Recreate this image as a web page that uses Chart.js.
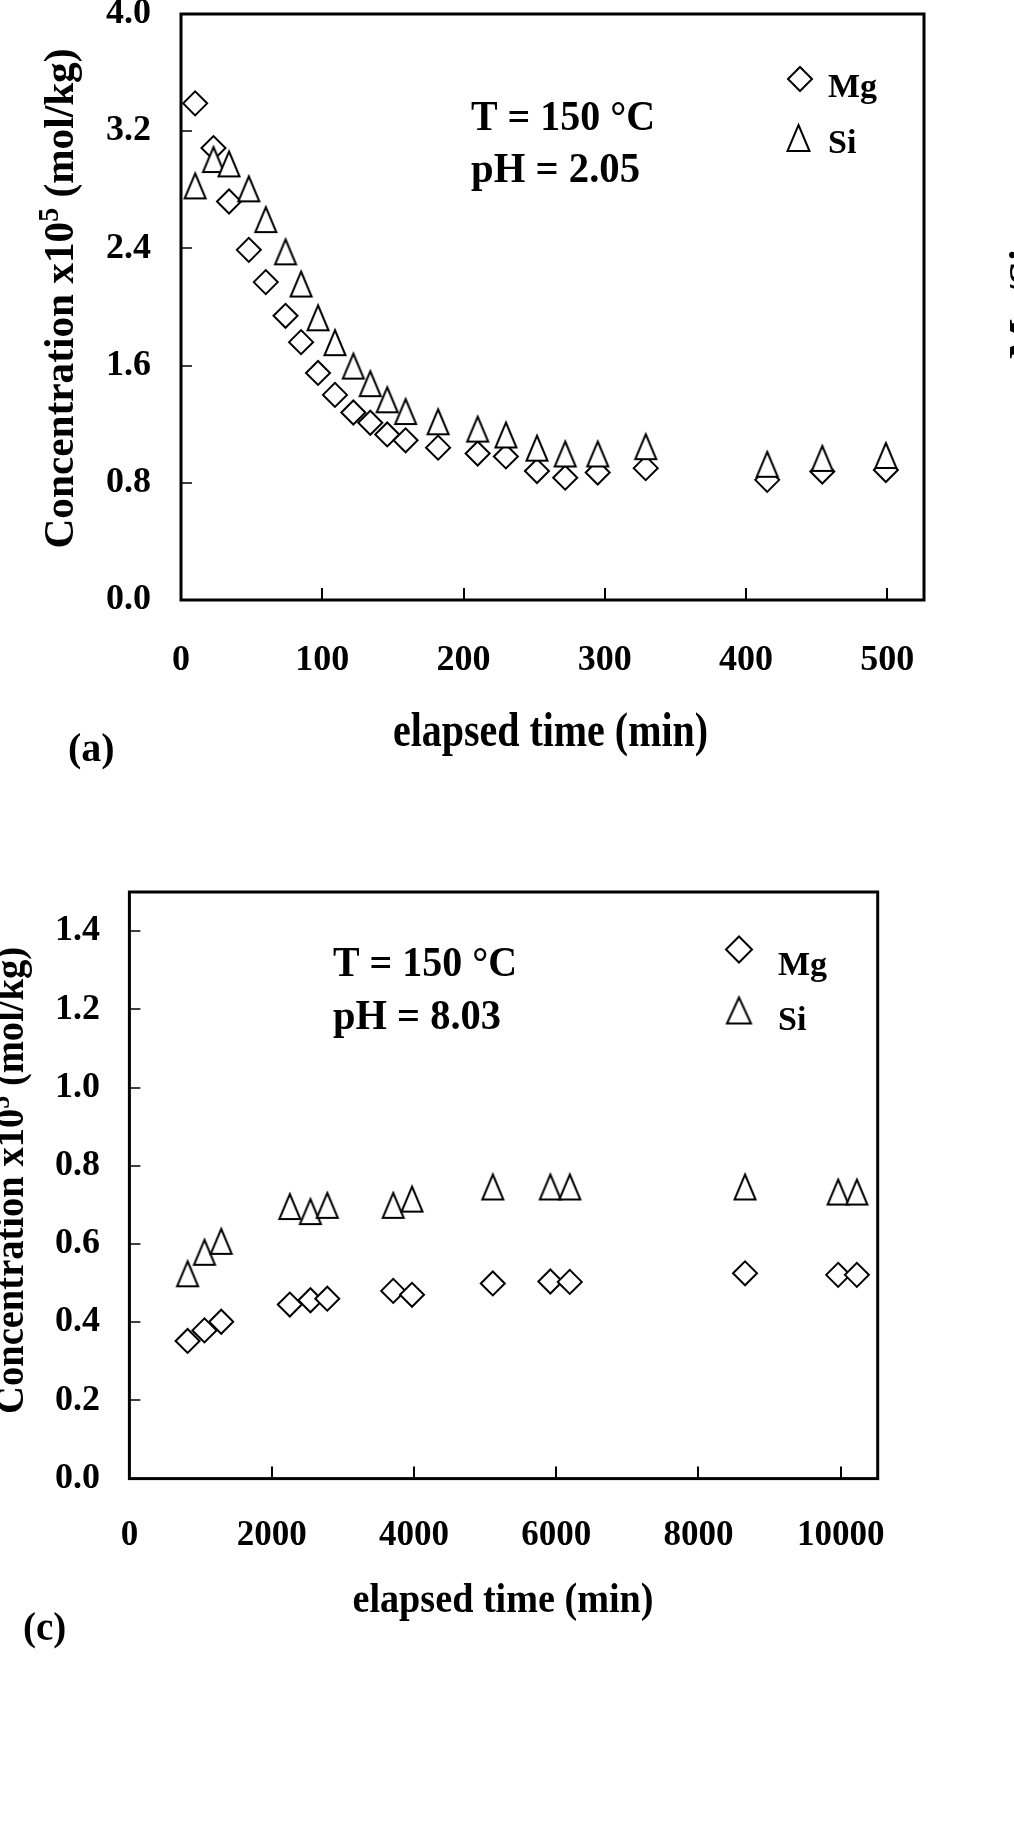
<!DOCTYPE html>
<html><head><meta charset="utf-8">
<script src="https://cdn.jsdelivr.net/npm/chart.js@4.4.0/dist/chart.umd.min.js"></script>
<style>
html,body{margin:0;padding:0;background:#fff;width:1014px;height:1842px;overflow:hidden;}
canvas{position:absolute;left:0;}
#c1{top:0px}
#c2{top:842px}
</style></head><body>
<canvas id="c1" width="1014" height="800"></canvas>
<canvas id="c2" width="1014" height="1000"></canvas>
<script>
const FONT = "'Liberation Serif','Times New Roman',serif";

// ---------- data: panel (a) pH 2.05 ----------
const timeA = [10,23,34,48,60,74,85,97,109,122,134,146,159,182,210,230,252,272,295,329,415,454,499];
const mgA   = [3.39,3.085,2.72,2.39,2.17,1.94,1.76,1.55,1.40,1.28,1.21,1.13,1.09,1.04,1.00,0.98,0.88,0.835,0.87,0.90,0.82,0.877,0.887];
const siA   = [2.83,3.01,2.98,2.81,2.60,2.38,2.16,1.93,1.76,1.60,1.48,1.37,1.29,1.22,1.17,1.13,1.04,1.00,1.00,1.05,0.93,0.97,0.99];
const xTicksA = [0,100,200,300,400,500];
const yTicksA = [0,0.8,1.6,2.4,3.2,4.0];

// ---------- data: panel (c) pH 8.03 ----------
const timeC = [818,1055,1291,2255,2545,2782,3709,3973,5109,5918,6191,8655,9964,10227];
const mgC   = [0.352,0.379,0.401,0.445,0.456,0.46,0.48,0.47,0.499,0.504,0.503,0.525,0.521,0.521];
const siC   = [0.525,0.58,0.608,0.697,0.684,0.70,0.70,0.716,0.747,0.747,0.747,0.747,0.734,0.734];
const xTicksC = [0,2000,4000,6000,8000,10000];
const yTicksC = [0,0.2,0.4,0.6,0.8,1.0,1.2,1.4];

const seriesNames = ['Mg','Si'];
const xTitle = 'elapsed time (min)';
const yTitleParts = ['Concentration x10','5',' (mol/kg)'];

function makeTriangle(w,h,lw){
  const c=document.createElement('canvas'); c.width=w; c.height=h;
  const g=c.getContext('2d');
  g.beginPath(); g.moveTo(w/2,3); g.lineTo(w-2.5,h-2); g.lineTo(2.5,h-2); g.closePath();
  g.fillStyle='#fff'; g.fill(); g.lineWidth=lw; g.strokeStyle='#000'; g.lineJoin='miter'; g.stroke();
  return c;
}
const triData = makeTriangle(26,30,2);

function txt(ctx,s,x,y,size,maxW,align){
  ctx.font='bold '+size+'px '+FONT; ctx.textAlign=align||'left'; ctx.textBaseline='alphabetic'; ctx.fillStyle='#000';
  if(maxW) ctx.fillText(s,x,y,maxW); else ctx.fillText(s,x,y);
}
function drawYTitle(ctx,bx,cy,size,len,supSize,raise){
  ctx.save(); ctx.translate(bx,cy); ctx.rotate(-Math.PI/2);
  const f='bold '+size+'px '+FONT, fs='bold '+supSize+'px '+FONT;
  ctx.font=f; const w1=ctx.measureText(yTitleParts[0]).width, w3=ctx.measureText(yTitleParts[2]).width;
  ctx.font=fs; const w2=ctx.measureText(yTitleParts[1]).width;
  const tot=w1+w2+w3; ctx.scale(len/tot,1);
  let x=-tot/2; ctx.fillStyle='#000'; ctx.textAlign='left'; ctx.textBaseline='alphabetic';
  ctx.font=f; ctx.fillText(yTitleParts[0],x,0); x+=w1;
  ctx.font=fs; ctx.fillText(yTitleParts[1],x,-raise); x+=w2;
  ctx.font=f; ctx.fillText(yTitleParts[2],x,0);
  ctx.restore();
}
function diamond(ctx,cx,cy,r){
  ctx.save(); ctx.beginPath(); ctx.moveTo(cx-r,cy); ctx.lineTo(cx,cy-r); ctx.lineTo(cx+r,cy); ctx.lineTo(cx,cy+r); ctx.closePath();
  ctx.fillStyle='#fff'; ctx.fill(); ctx.lineWidth=2; ctx.strokeStyle='#000'; ctx.stroke(); ctx.restore();
}
function tri(ctx,cx,cy,w,h){ const c=makeTriangle(w,h,2); ctx.drawImage(c,cx-w/2,cy-h/2); }
function frameAndTicks(chart){
  const ctx=chart.ctx, a=chart.chartArea, x=chart.scales.x, y=chart.scales.y;
  ctx.save(); ctx.strokeStyle='#000';
  ctx.lineWidth=2;
  x.ticks.forEach(t=>{const p=Math.round(x.getPixelForValue(t.value)); ctx.beginPath(); ctx.moveTo(p,a.bottom); ctx.lineTo(p,a.bottom-12); ctx.stroke();});
  ctx.lineWidth=1.5;
  y.ticks.forEach(t=>{const p=Math.round(y.getPixelForValue(t.value)); ctx.beginPath(); ctx.moveTo(a.left,p); ctx.lineTo(a.left+11,p); ctx.stroke();});
  ctx.lineWidth=3; ctx.strokeRect(a.left,a.top,a.right-a.left,a.bottom-a.top);
  ctx.restore();
}

function makeChart(id,o){
  return new Chart(document.getElementById(id),{
    type:'scatter',
    data:{datasets:[
      {label:seriesNames[0],data:o.t.map((v,i)=>({x:v,y:o.mg[i]})),pointStyle:'rectRot',pointRadius:12,pointBorderWidth:2,
       pointBorderColor:'#000',pointBackgroundColor:'#fff',borderColor:'#000',backgroundColor:'#fff',showLine:false,order:2},
      {label:seriesNames[1],data:o.t.map((v,i)=>({x:v,y:o.si[i]})),pointStyle:triData,pointRadius:13,
       borderColor:'#000',backgroundColor:'#fff',showLine:false,order:1}
    ]},
    options:{
      responsive:false,animation:false,devicePixelRatio:1,events:[],
      layout:{padding:{left:0,right:o.padR,top:o.padT,bottom:0}},
      plugins:{legend:{display:false},tooltip:{enabled:false}},
      scales:{
        x:{type:'linear',min:0,max:o.xmax,
           afterBuildTicks:s=>{s.ticks=o.xt.map(v=>({value:v}));},
           afterFit:s=>{s.height=o.xh;s.paddingLeft=0;s.paddingRight=0;},
           grid:{display:false,drawTicks:false},border:{display:false},
           ticks:{padding:o.xpad,color:'#000',maxRotation:0,autoSkip:false,font:{family:FONT,size:o.fx,weight:'bold'},callback:v=>String(v)}},
        y:{type:'linear',min:0,max:o.ymax,
           afterBuildTicks:s=>{s.ticks=o.yt.map(v=>({value:v}));},
           afterFit:s=>{s.width=o.yw;s.paddingTop=0;s.paddingBottom=0;},
           grid:{display:false,drawTicks:false},border:{display:false},
           ticks:{padding:o.ypad,color:'#000',autoSkip:false,font:{family:FONT,size:36,weight:'bold'},callback:v=>Number(v).toFixed(1)}}
      }
    },
    plugins:[{id:'decor',afterDraw:(chart)=>{frameAndTicks(chart);o.decor(chart.ctx);}}]
  });
}

makeChart('c1',{t:timeA,mg:mgA,si:siA,xt:xTicksA,yt:yTicksA,xmax:526,ymax:4.0,
  padR:90,padT:9,xh:200,yw:181,xpad:38.7,ypad:30,fx:36,
  decor:(ctx)=>{
    txt(ctx,xTitle,550.5,746,49,315,'center');
    drawYTitle(ctx,73,298.5,43,500,29,15);
    txt(ctx,'T = 150 °C',471,130,42,184);
    txt(ctx,'pH = 2.05',471,182,42,169);
    diamond(ctx,800,79,12); txt(ctx,seriesNames[0],828,97,34);
    tri(ctx,798.5,137.5,27,31); txt(ctx,seriesNames[1],828,153,34);
    txt(ctx,'(a)',68,761,40);
    ctx.save(); ctx.translate(1038,249); ctx.rotate(-Math.PI/2); txt(ctx,'Mg/Si',0,0,43,null,'right'); ctx.restore();
  }});

makeChart('c2',{t:timeC,mg:mgC,si:siC,xt:xTicksC,yt:yTicksC,xmax:10520,ymax:1.5,
  padR:136.3,padT:50,xh:363.4,yw:129.4,xpad:36.6,ypad:29.4,fx:35,
  decor:(ctx)=>{
    txt(ctx,xTitle,503,770,42,301,'center');
    drawYTitle(ctx,23,338.4,40,467,27,14);
    txt(ctx,'T = 150 °C',333,134,42,184);
    txt(ctx,'pH = 8.03',333,187,42,168);
    diamond(ctx,739,107.5,13); txt(ctx,seriesNames[0],778,133,34);
    tri(ctx,739,168,29,31); txt(ctx,seriesNames[1],778,188,34);
    txt(ctx,'(c)',23,797.5,39);
  }});
</script>
</body></html>
